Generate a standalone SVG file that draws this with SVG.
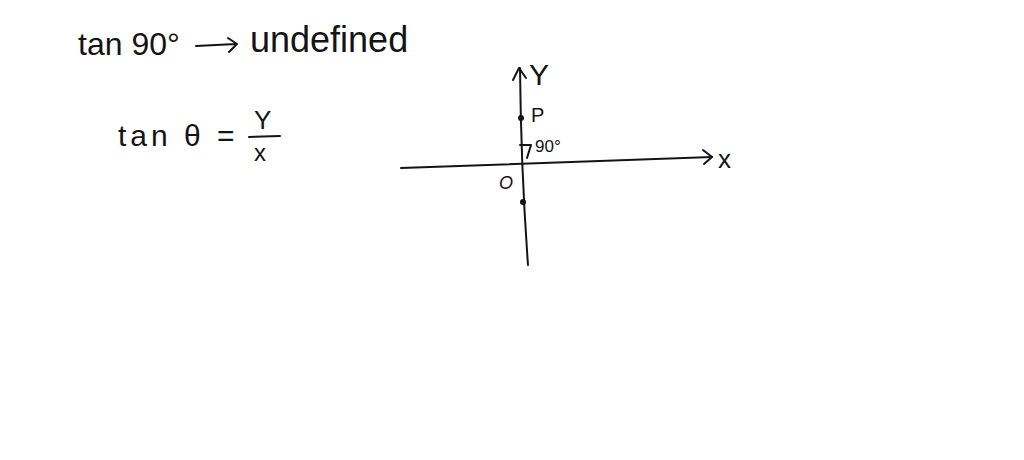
<svg xmlns="http://www.w3.org/2000/svg" width="1024" height="460" viewBox="0 0 1024 460">
<style>
.t{font-family:"Liberation Sans","DejaVu Sans",sans-serif;fill:#141414}
.ln{stroke:#141414;stroke-width:2;fill:none;stroke-linecap:round;stroke-linejoin:round}
</style>
<rect width="1024" height="460" fill="#ffffff"/>
<g id="equation1">
<text class="t" x="78" y="55" font-size="32">tan 90°</text>
<path class="ln" d="M196 46 L236 44 M228 38 L237 44 L229 52"/>
<text class="t" x="250" y="52" font-size="36">undefined</text>
</g>
<g id="equation2">
<text class="t" x="118" y="146" font-size="30" letter-spacing="4">tan θ =</text>
<text class="t" x="254" y="129" font-size="26">Y</text>
<path class="ln" d="M249 137 L280 136"/>
<text class="t" x="254" y="161" font-size="24">x</text>
</g>
<g id="connectors">
<path class="ln" d="M401 168 L712 157"/>
<path class="ln" d="M703 150 L712 157 L704 164"/>
<path class="ln" d="M520 68 Q521 170 528 265"/>
<path class="ln" d="M513 80 L519 68 L526 78"/>
<path class="ln" d="M520 145 L531 145 L527 158"/>
</g>
<g id="axis-labels">
<text class="t" x="529" y="85" font-size="30">Y</text>
<text class="t" x="718" y="168" font-size="26">x</text>
<text class="t" x="499" y="189" font-size="18" font-style="italic">O</text>
</g>
<g id="point-P">
<circle cx="521" cy="118" r="3" fill="#141414"/>
<text class="t" x="531" y="122" font-size="20">P</text>
</g>
<g id="angle">
<text class="t" x="535" y="152" font-size="17">90°</text>
</g>
<g id="point-lower">
<circle cx="523" cy="202" r="3" fill="#141414"/>
</g>
</svg>
